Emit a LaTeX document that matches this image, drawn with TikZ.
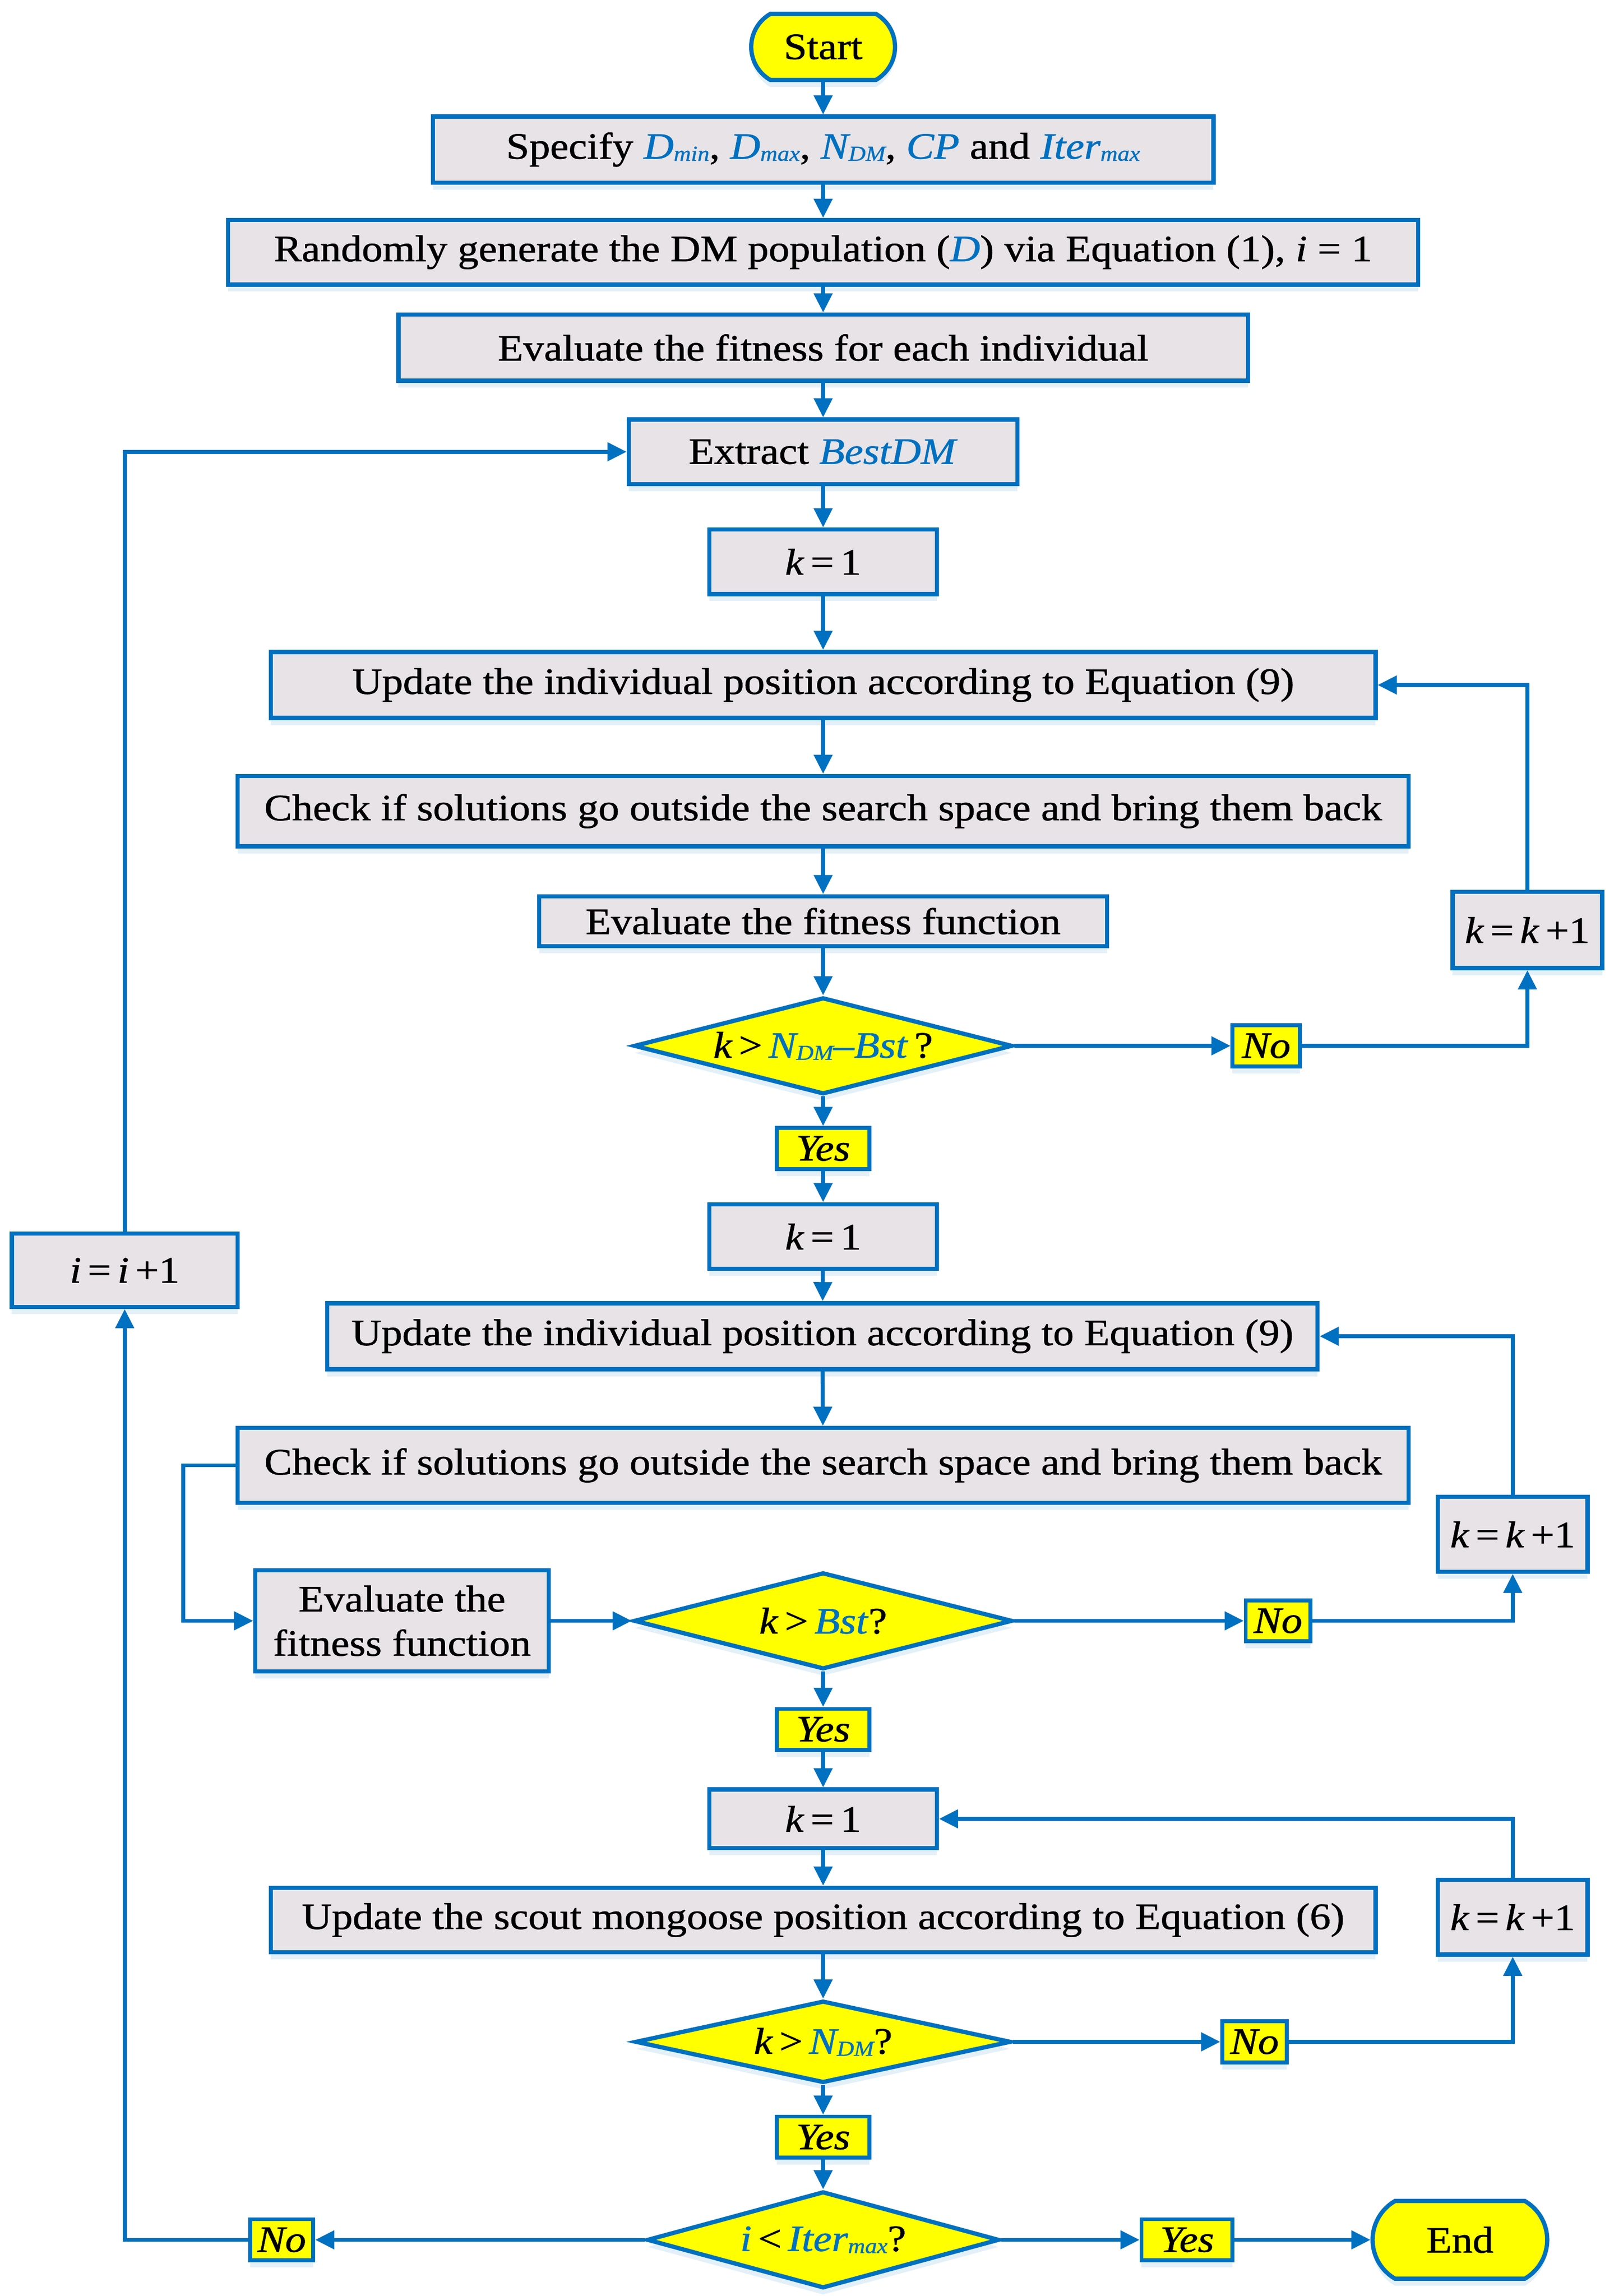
\documentclass[tikz,border=0pt]{standalone}
\usepackage{fontspec}
\setmainfont{Liberation Serif}[FakeStretch=1.12, FakeBold=1.0]
\usetikzlibrary{shapes.geometric,shapes.misc,arrows.meta,shadows}
\definecolor{tblue}{RGB}{0,112,192}
\definecolor{boxgray}{RGB}{231,227,230}
\definecolor{tyellow}{RGB}{255,255,0}
\newlength{\pxu}\setlength{\pxu}{0.029145cm}
\newcommand{\bl}[1]{\textcolor{tblue}{\textit{#1}}}
\newcommand{\sbs}[1]{\raisebox{-0.12ex}{\fontsize{12}{12}\selectfont #1}}
\newcommand{\hs}{\hspace{0.17em}}
\begin{document}
\begin{tikzpicture}[x=0.029145cm, y=-0.029145cm,
  base/.style={font=\fontsize{21}{25}\selectfont, inner sep=0pt,
    drop shadow={shadow xshift=0pt, shadow yshift=-4pt, fill=tblue!15, opacity=0.7}},
  box/.style={base, rectangle, draw=tblue, line width=2.4pt, fill=boxgray},
  term/.style={base, rounded rectangle, rounded rectangle arc length=120, draw=tblue, line width=2.4pt, fill=tyellow},
  dec/.style={base, diamond, shape aspect=3.9, draw=tblue, line width=2.4pt, fill=tyellow},
  lab/.style={base, rectangle, draw=tblue, line width=2.2pt, fill=tyellow, font=\fontsize{21}{24}\selectfont\itshape},
  arr/.style={draw=tblue, line width=2.2pt, -{Triangle[length=0.38cm,width=0.36cm]}}
]
\fill[white] (0,0) rectangle (1100,1565.3);
\useasboundingbox (0,0) rectangle (1100,1565.3);

\node[term, minimum width=98\pxu, minimum height=45\pxu] (start) at (561,32) {Start};
\node[box, minimum width=532\pxu, minimum height=45\pxu] (spec) at (561,102)
  {Specify \bl{D\sbs{min}}, \bl{D\sbs{max}}, \bl{N\sbs{DM}}, \bl{CP} and \bl{Iter\sbs{max}}};
\node[box, minimum width=811\pxu, minimum height=44\pxu] (rand) at (561,172)
  {Randomly generate the DM population (\bl{D}) via Equation (1), \textit{i} = 1};
\node[box, minimum width=579\pxu, minimum height=45\pxu] (evalall) at (561,237)
  {Evaluate the fitness for each individual};
\node[box, minimum width=265\pxu, minimum height=44\pxu] (extract) at (561,308)
  {Extract \bl{BestDM}};
\node[box, minimum width=155\pxu, minimum height=44\pxu] (k1a) at (561,383)
  {\textit{k}\hs=\hs1};
\node[box, minimum width=753\pxu, minimum height=45\pxu] (upd1) at (561,467)
  {Update the individual position according to Equation (9)};
\node[box, minimum width=798\pxu, minimum height=48\pxu] (chk1) at (561,553)
  {Check if solutions go outside the search space and bring them back};
\node[box, minimum width=387\pxu, minimum height=34\pxu] (ev1) at (561,628)
  {Evaluate the fitness function};
\node[dec, minimum width=258\pxu, minimum height=66\pxu] (dia1) at (561,713)
  {\textit{k}\hs>\hs\bl{N\sbs{DM}--Bst}\,?};
\node[lab, minimum width=46\pxu, minimum height=28\pxu] (no1) at (863,713) {No};
\node[box, minimum width=102\pxu, minimum height=52\pxu] (kk1) at (1041,634)
  {\textit{k}\hs=\hs\textit{k}\hs+1};
\node[lab, minimum width=63\pxu, minimum height=28\pxu] (yes1) at (561,783) {Yes};
\node[box, minimum width=155\pxu, minimum height=44\pxu] (k1b) at (561,843)
  {\textit{k}\hs=\hs1};
\node[box, minimum width=675\pxu, minimum height=45\pxu] (upd2) at (560.5,911)
  {Update the individual position according to Equation (9)};
\node[box, minimum width=798\pxu, minimum height=51\pxu] (chk2) at (561,999)
  {Check if solutions go outside the search space and bring them back};
\node[box, minimum width=200\pxu, minimum height=69\pxu, align=center] (ev2) at (274,1105)
  {Evaluate the\\fitness function};
\node[dec, minimum width=258\pxu, minimum height=66\pxu] (dia2) at (561,1105)
  {\textit{k}\hs>\hs\bl{Bst}?};
\node[lab, minimum width=44\pxu, minimum height=28\pxu] (no2) at (871,1105) {No};
\node[box, minimum width=102\pxu, minimum height=51\pxu] (kk2) at (1031,1046)
  {\textit{k}\hs=\hs\textit{k}\hs+1};
\node[lab, minimum width=63\pxu, minimum height=28\pxu] (yes2) at (561,1179) {Yes};
\node[box, minimum width=155\pxu, minimum height=40\pxu] (k1c) at (561,1240)
  {\textit{k}\hs=\hs1};
\node[box, minimum width=753\pxu, minimum height=44\pxu] (scout) at (561,1309)
  {Update the scout mongoose position according to Equation (6)};
\node[box, minimum width=102\pxu, minimum height=51\pxu] (kk3) at (1031,1307)
  {\textit{k}\hs=\hs\textit{k}\hs+1};
\node[dec, minimum width=256\pxu, minimum height=56\pxu] (dia3) at (561,1392)
  {\textit{k}\hs>\hs\bl{N\sbs{DM}}?};
\node[lab, minimum width=44\pxu, minimum height=28\pxu] (no3) at (855,1392) {No};
\node[lab, minimum width=63\pxu, minimum height=28\pxu] (yes3) at (561,1457) {Yes};
\node[dec, minimum width=240\pxu, minimum height=66\pxu] (dia4) at (561,1527)
  {\bl{i}\hs<\hs\bl{Iter\sbs{max}}?};
\node[lab, minimum width=43\pxu, minimum height=28\pxu] (no4) at (192,1527) {No};
\node[box, minimum width=154\pxu, minimum height=50\pxu] (ii) at (85,866)
  {\textit{i}\hs=\hs\textit{i}\hs+1};
\node[lab, minimum width=62\pxu, minimum height=28\pxu] (yes4) at (809,1527) {Yes};
\node[term, minimum width=119\pxu, minimum height=53\pxu] (end) at (995,1527) {End};

\coordinate (c1) at (125,999);

\draw[arr] (start) -- (spec);
\draw[arr] (spec) -- (rand);
\draw[arr] (rand) -- (evalall);
\draw[arr] (evalall) -- (extract);
\draw[arr] (extract) -- (k1a);
\draw[arr] (k1a) -- (upd1);
\draw[arr] (upd1) -- (chk1);
\draw[arr] (chk1) -- (ev1);
\draw[arr] (ev1) -- (dia1);
\draw[arr] (dia1.east) -- (no1.west);
\draw[arr] (no1.east) -| (kk1.south);
\draw[arr] (kk1.north) |- (upd1.east);
\draw[arr] (dia1.south) -- (yes1.north);
\draw[arr] (yes1) -- (k1b);
\draw[arr] (k1b) -- (upd2);
\draw[arr] (upd2) -- (chk2);
\draw[arr] (chk2.west) -- (c1) |- (ev2.west);
\draw[arr] (ev2.east) -- (dia2.west);
\draw[arr] (dia2.east) -- (no2.west);
\draw[arr] (no2.east) -| (kk2.south);
\draw[arr] (kk2.north) |- (upd2.east);
\draw[arr] (dia2.south) -- (yes2.north);
\draw[arr] (yes2) -- (k1c);
\draw[arr] (k1c) -- (scout);
\draw[arr] (scout) -- (dia3.north);
\draw[arr] (dia3.east) -- (no3.west);
\draw[arr] (no3.east) -| (kk3.south);
\draw[arr] (kk3.north) |- (k1c.east);
\draw[arr] (dia3.south) -- (yes3.north);
\draw[arr] (yes3) -- (dia4.north);
\draw[arr] (dia4.west) -- (no4.east);
\draw[arr] (no4.west) -| (ii.south);
\draw[arr] (ii.north) |- (extract.west);
\draw[arr] (dia4.east) -- (yes4.west);
\draw[arr] (yes4.east) -- (end.west);
\end{tikzpicture}
\end{document}
